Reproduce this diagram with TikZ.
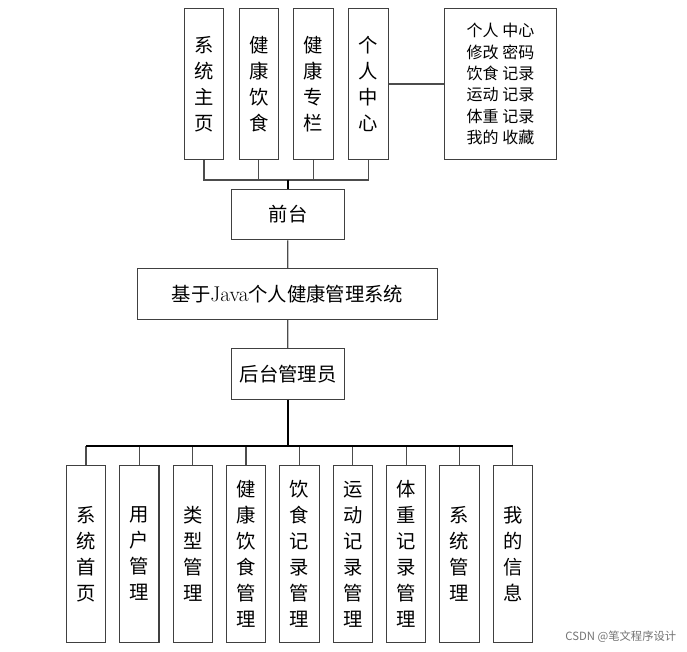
\documentclass[tikz,border=0pt]{standalone}
\usepackage{fontspec}
\newfontfamily\cjk{Noto Sans CJK SC}
\usetikzlibrary{positioning}

\begin{document}
\begin{tikzpicture}[x=0.75pt, y=-0.75pt, node distance=10.8pt,
  box/.style={draw=black!75, line width=0.8pt, inner sep=0pt, align=center},
  tallbox/.style={box, minimum width=29.5pt, minimum height=113.5pt, font=\cjk\fontsize{14.5}{19.5}\selectfont},
  lowbox/.style={box, minimum width=29.5pt, minimum height=133pt, font=\cjk\fontsize{14.5}{19.5}\selectfont},
  widebox/.style={box, minimum width=85pt, minimum height=38pt, font=\cjk\fontsize{14.5}{16}\selectfont},
  link/.style={draw=black!70, line width=0.9pt},
  trunk/.style={draw=black, line width=1.4pt}]
  \useasboundingbox (0,0) rectangle (687,652);

  % front end
  \node[tallbox] (home) at (204,84) {系\\统\\主\\页};
  \node[tallbox, right=of home] (diet) {健\\康\\饮\\食};
  \node[tallbox, right=of diet] (column) {健\\康\\专\\栏};
  \node[tallbox, right=of column] (center) {个\\人\\中\\心};
  \node[box, minimum width=84.5pt, minimum height=113.5pt, font=\cjk\fontsize{12}{16}\selectfont] (centerlist) at (500.5,84) {个人 中心\\修改 密码\\饮食 记录\\运动 记录\\体重 记录\\我的 收藏};
  \node[widebox] (front) at (288,214.5) {前台};
  \node[widebox, minimum width=225.5pt, minimum height=38.5pt] (system) at (287.5,294) {基于{\rmfamily\fontsize{16}{16}\selectfont Java}个人健康管理系统};
  \node[widebox] (admin) at (288,374) {后台管理员};
  \coordinate (topbus) at (288,180);
  \coordinate (botbus) at (288,446);

  \draw[link] (center) -- (centerlist);
  \draw[link] (home.south) |- (topbus);
  \draw[link] (center.south) |- (topbus);
  \draw[link] (diet.south) -- (diet.south |- topbus);
  \draw[link] (column.south) -- (column.south |- topbus);
  \draw[trunk] (topbus) -- (front.north);
  \draw[link] (front) -- (system);
  \draw[link] (system) -- (admin);

  % back end
  \foreach \name [count=\i] in {系\\统\\首\\页, 用\\户\\管\\理, 类\\型\\管\\理, 健\\康\\饮\\食\\管\\理, 饮\\食\\记\\录\\管\\理, 运\\动\\记\\录\\管\\理, 体\\重\\记\\录\\管\\理, 系\\统\\管\\理, 我\\的\\信\\息}
    \node[lowbox] (mgr\i) at ({86+53.35*(\i-1)},554) {\name};
  \foreach \i in {1,...,9}
    \draw[link] (mgr\i.north) -- (mgr\i.north |- botbus);
  \draw[trunk] (admin.south) -- (botbus);
  \draw[trunk] (mgr1.north |- botbus) -- (mgr9.north |- botbus);

  \node[anchor=east, text=black!55, font=\cjk\fontsize{8.5}{10}\selectfont] (mark) at (681,637) {CSDN @笔文程序设计};
\end{tikzpicture}
\end{document}
